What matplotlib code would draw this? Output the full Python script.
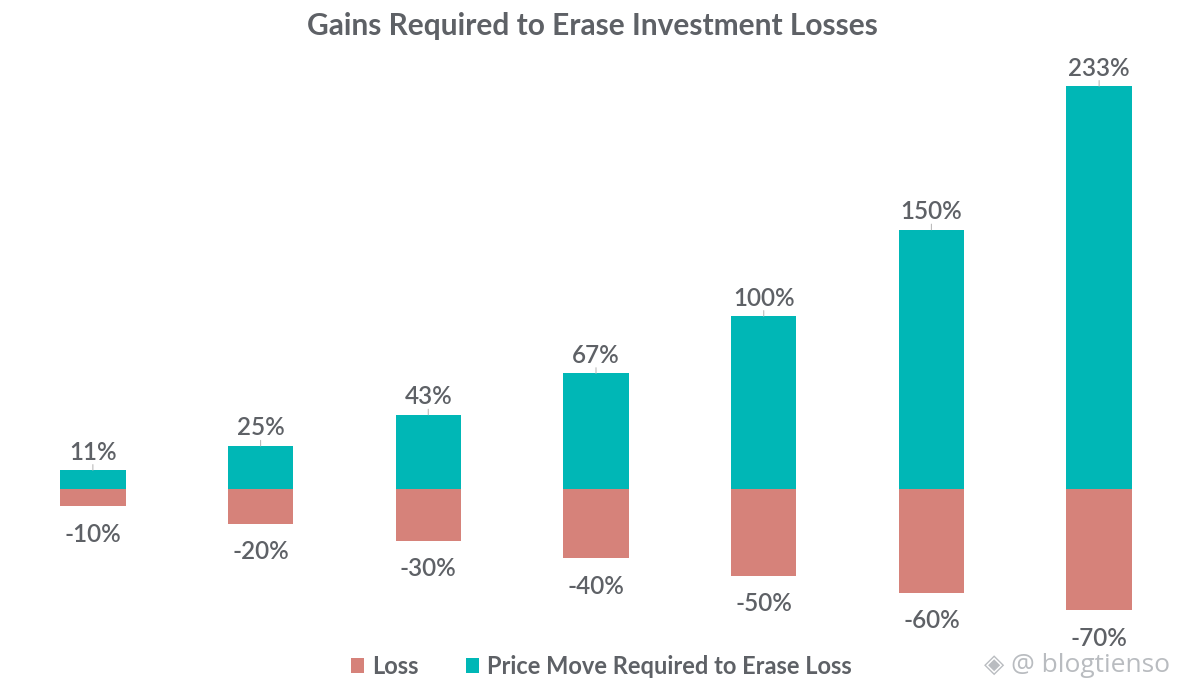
import matplotlib.pyplot as plt
import numpy as np

plt.rcParams['font.family'] = ['Lato', 'DejaVu Sans']

# data
losses = [-10, -20, -30, -40, -50, -60, -70]
gains = [11, 25, 43, 67, 100, 150, 233]
loss_labels = ['-10%', '-20%', '-30%', '-40%', '-50%', '-60%', '-70%']
gain_labels = ['11%', '25%', '43%', '67%', '100%', '150%', '233%']

TEAL = '#00B7B6'
SALMON = '#D6827A'
GREY = '#5E6166'

fig = plt.figure(figsize=(11.84, 6.96), dpi=100)
ax = fig.add_axes([9 / 1184, 0.0983, 1174 / 1184, 0.8202])

x = np.arange(len(gains))
b1 = ax.bar(x, losses, width=0.39, color=SALMON, label='Loss')
b2 = ax.bar(x, gains, width=0.39, color=TEAL, label='Price Move Required to Erase Loss')

for xi, g, lab in zip(x, gains, gain_labels):
    ax.annotate(lab, (xi, g), xytext=(0, 13), textcoords='offset points',
                ha='center', va='center', fontsize=17.5, color=GREY,
                fontweight='semibold')
    ax.annotate('', (xi, g), xytext=(0, 4), textcoords='offset points',
                arrowprops=dict(arrowstyle='-', color='#bbbbbb', lw=0.8,
                                shrinkA=0, shrinkB=0))
for xi, l, lab in zip(x, losses, loss_labels):
    ax.annotate(lab, (xi, l), xytext=(0, -20), textcoords='offset points',
                ha='center', va='center', fontsize=17.5, color=GREY,
                fontweight='semibold')

ax.set_xlim(-0.5, 6.5)
ax.set_ylim(-80, 250)
ax.axis('off')

fig.text(0.5, 1 - 26 / 696, 'Gains Required to Erase Investment Losses',
         ha='center', va='center', fontsize=21.5, fontweight='bold', color=GREY)

leg = fig.legend(handles=[b1, b2], loc='center', bbox_to_anchor=(0.508, 1 - 666 / 696),
                 ncol=2, frameon=False, fontsize=17, handlelength=0.55, handleheight=0.6,
                 columnspacing=2.0, handletextpad=0.35)
for t in leg.get_texts():
    t.set_color(GREY)
    t.set_fontweight('bold')

fig.text(1170 / 1184, 1 - 666 / 696, '\u25c8 @ blogtienso', ha='right', va='center',
         fontsize=19, color='#b9bcc0', family=['Open Sans', 'DejaVu Sans'])

fig.savefig('out.png', dpi=100, facecolor='white')
